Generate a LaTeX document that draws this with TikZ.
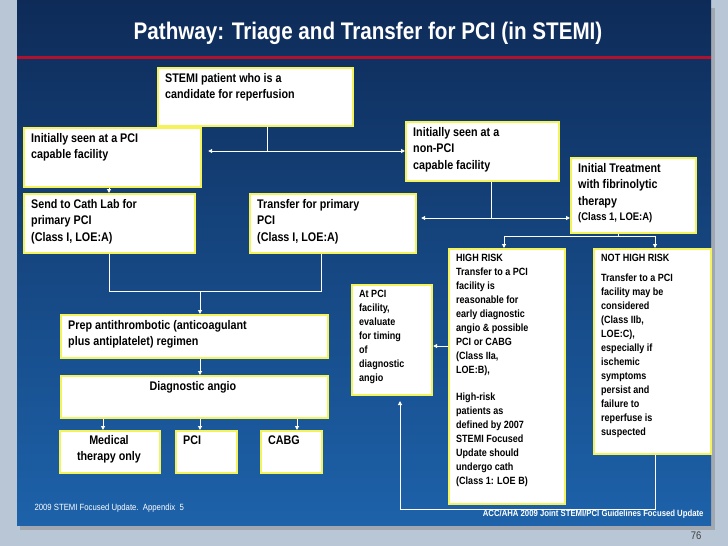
\documentclass[tikz,border=0pt]{standalone}
\usepackage{fontspec}
\setmainfont{Liberation Sans}[FakeStretch=0.86]
\usetikzlibrary{arrows.meta}
\definecolor{bgout}{HTML}{B9C6D6}
\definecolor{pantop}{HTML}{0E2B58}
\definecolor{panbot}{HTML}{1D62AA}
\definecolor{ybord}{HTML}{F4F45A}
\definecolor{redline}{HTML}{B0122E}
\tikzset{
  box/.style={draw=ybord, line width=2.2pt, fill=white, inner sep=0pt, anchor=north west},
  btxt/.style={anchor=north west, inner sep=0pt, align=left, font=\bfseries, text=black},
  conn/.style={draw=white, line width=1pt},
  arr/.style={conn, -{Triangle[width=4pt,length=4pt]}},
  darr/.style={conn, {Triangle[width=4pt,length=4pt]}-{Triangle[width=4pt,length=4pt]}}
}
\newcommand{\bx}[7]{%
  \node[box, minimum width=#4pt, minimum height=#5pt] (#1) at (#2,#3) {};
  \node[btxt, font=\bfseries\fontsize{#6pt}{\dimexpr #6pt*4/3\relax}\selectfont] (#1t) at (#2+8,#3+6) {#7};}
\begin{document}
\begin{tikzpicture}[x=1pt,y=-1pt]
\useasboundingbox (0,0) rectangle (728,546);
\fill[bgout] (0,0) rectangle (728,546);
\fill[black!45,opacity=0.5] (20,8) rectangle (715,530);
\shade[top color=pantop, bottom color=panbot] (17,0) rectangle (711,525);
\fill[redline] (17,56) rectangle (711,59);
\node[font=\bfseries\fontsize{24}{28}\selectfont, text=white] (title) at (368,33) {Pathway: Triage and Transfer for PCI (in STEMI)};

\bx{stemi}{157}{67}{195}{58}{12.5}{STEMI patient who is a\\candidate for reperfusion}
\bx{ipci}{23}{127}{177}{59}{12.5}{Initially seen at a PCI\\capable facility}
\bx{inon}{405}{121}{153}{59}{12.5}{Initially seen at a\\non-PCI\\capable facility}
\bx{itreat}{570}{157}{125}{75}{12.5}{Initial Treatment\\with fibrinolytic\\therapy\\[-2pt]{\fontsize{11}{13}\selectfont(Class 1, LOE:A)}}
\bx{cath}{23}{193}{171}{59}{12.5}{Send to Cath Lab for\\primary PCI\\(Class I, LOE:A)}
\bx{tprim}{249}{193}{166}{59}{12.5}{Transfer for primary\\PCI\\(Class I, LOE:A)}
\bx{high}{448}{248}{116}{255}{10.5}{HIGH RISK\\Transfer to a PCI\\facility is\\reasonable for\\early diagnostic\\angio \& possible\\PCI or CABG\\(Class IIa,\\LOE:B),\\[13pt]High-risk\\patients as\\defined by 2007\\STEMI Focused\\Update should\\undergo cath\\(Class 1: LOE B)}
\bx{nothigh}{593}{248}{117}{205}{10.5}{NOT HIGH RISK\\[6pt]Transfer to a PCI\\facility may be\\considered\\(Class IIb,\\LOE:C),\\especially if\\ischemic\\symptoms\\persist and\\failure to\\reperfuse is\\suspected}
\bx{atpci}{351}{284}{80}{110}{10.5}{At PCI\\facility,\\evaluate\\for timing\\of\\diagnostic\\angio}
\bx{prep}{60}{314}{267}{43}{12.5}{Prep antithrombotic (anticoagulant\\plus antiplatelet) regimen}
\node[box, minimum width=267pt, minimum height=42pt] (diag) at (60,375) {};
\node[btxt, font=\bfseries\fontsize{12.5}{15}\selectfont, anchor=north] (diagt) at (193,381) {Diagnostic angio};
\node[box, minimum width=100pt, minimum height=42pt] (med) at (59,430) {};
\node[btxt, align=center, anchor=north, font=\bfseries\fontsize{12.5}{16}\selectfont] (medt) at (109,435) {Medical\\therapy only};
\bx{pci}{175}{430}{61}{42}{12.5}{PCI}
\bx{cabg}{260}{430}{61}{42}{12.5}{CABG}

% connectors
\coordinate (j1) at (267,151);
\draw[conn] (stemi.south -| j1) -- (j1);
\draw[darr] (ipci.east |- j1) ++(6,0) -- (inon.west |- j1);
\draw[arr] (ipci.south -| 109,0) -- (cath.north -| 109,0);
\coordinate (j2) at (491,218);
\draw[conn] (inon.south -| j2) -- (j2);
\draw[darr] (tprim.east |- j2) ++(4,0) -- (itreat.west |- j2);
\coordinate (j3) at (618,236);
\draw[conn] (itreat.south -| j3) -- (j3);
\draw[conn] (504,236) -- (655,236);
\draw[arr] (504,236) -- (high.north -| 504,0);
\draw[arr] (655,236) -- (nothigh.north -| 655,0);
\coordinate (j4) at (200,291);
\draw[conn] (cath.south -| 109,0) -- (109,291) -- (321,291) -- (tprim.south -| 321,0);
\draw[arr] (j4) -- (prep.north -| j4);
\draw[arr] (prep.south -| j4) -- (diag.north -| j4);
\draw[arr] (diag.south -| 103,0) -- (med.north -| 103,0);
\draw[arr] (diag.south -| 200,0) -- (pci.north -| 200,0);
\draw[arr] (diag.south -| 297,0) -- (cabg.north -| 297,0);
\draw[arr] (high.west |- 0,346) -- (atpci.east |- 0,346);
\draw[arr] (nothigh.south -| 655,0) -- (655,509) -- (400,509) -- (400,401);

\node[anchor=west, text=white, font=\fontsize{9}{11}\selectfont] (foot1) at (31,508) {2009 STEMI Focused Update.\ \ Appendix\ \ 5};
\node[anchor=east, text=white, font=\bfseries\fontsize{9}{11}\selectfont] (foot2) at (707,514) {ACC/AHA 2009 Joint STEMI/PCI Guidelines Focused Update};
\node[anchor=east, text=black!75, font=\fontsize{11}{13}\selectfont] (pnum) at (705,536) {76};
\end{tikzpicture}
\end{document}
